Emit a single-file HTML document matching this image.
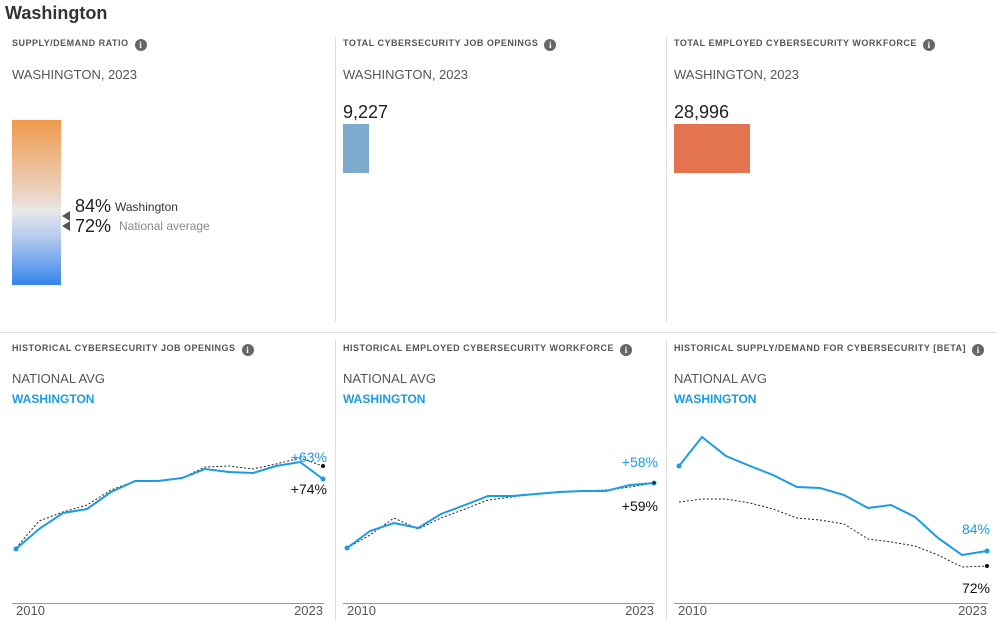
<!DOCTYPE html>
<html><head><meta charset="utf-8"><style>
body{margin:0;width:997px;height:623px;background:#fff;font-family:"Liberation Sans",Arial,sans-serif;overflow:hidden;position:relative}
.a{position:absolute;white-space:nowrap}
.h{font-size:9px;font-weight:bold;color:#555;letter-spacing:.5px}
.i{display:inline-block;width:12px;height:12px;border-radius:50%;background:#666;color:#fff;font-size:9px;text-align:center;line-height:12px;margin-left:6px;vertical-align:-2px;letter-spacing:0;font-family:"Liberation Serif",serif}
.s{font-size:13px;color:#555}
.w{font-size:12px;font-weight:bold;color:#1a9be6}
</style></head><body>
<div class="a" style="left:5px;top:3px;font-size:18px;font-weight:bold;color:#333">Washington</div>
<div class="a" style="left:335px;top:37px;width:1px;height:285px;background:#ddd"></div>
<div class="a" style="left:666px;top:37px;width:1px;height:285px;background:#ddd"></div>
<div class="a" style="left:0;top:332px;width:997px;height:1px;background:#ddd"></div>
<div class="a" style="left:335px;top:340px;width:1px;height:280px;background:#ddd"></div>
<div class="a" style="left:666px;top:340px;width:1px;height:280px;background:#ddd"></div>

<div class="a h" style="left:12px;top:38px">SUPPLY/DEMAND RATIO<span class="i">i</span></div>
<div class="a h" style="left:343px;top:38px">TOTAL CYBERSECURITY JOB OPENINGS<span class="i">i</span></div>
<div class="a h" style="left:674px;top:38px">TOTAL EMPLOYED CYBERSECURITY WORKFORCE<span class="i">i</span></div>
<div class="a s" style="left:12px;top:67px">WASHINGTON, 2023</div>
<div class="a s" style="left:343px;top:67px">WASHINGTON, 2023</div>
<div class="a s" style="left:674px;top:67px">WASHINGTON, 2023</div>

<div class="a" style="left:12px;top:120px;width:49px;height:165px;background:linear-gradient(#f0994a,#ebd9cc 48%,#e8e8e8 55%,#b9cdee 70%,#3585ec)"></div>
<div class="a" style="left:62px;top:211px;width:0;height:0;border-top:5px solid transparent;border-bottom:5px solid transparent;border-right:8px solid #555"></div>
<div class="a" style="left:62px;top:221px;width:0;height:0;border-top:5px solid transparent;border-bottom:5px solid transparent;border-right:8px solid #555"></div>
<div class="a" style="left:75px;top:196px;font-size:18px;color:#222">84%</div>
<div class="a" style="left:75px;top:216px;font-size:18px;color:#222">72%</div>
<div class="a" style="left:115px;top:200px;font-size:12px;color:#333">Washington</div>
<div class="a" style="left:119px;top:219px;font-size:12px;color:#888">National average</div>

<div class="a" style="left:343px;top:102px;font-size:18px;color:#222">9,227</div>
<div class="a" style="left:343px;top:124px;width:26px;height:49px;background:#7eaacd"></div>
<div class="a" style="left:674px;top:102px;font-size:18px;color:#222">28,996</div>
<div class="a" style="left:674px;top:124px;width:76px;height:49px;background:#e4734f"></div>

<div class="a h" style="left:12px;top:343px">HISTORICAL CYBERSECURITY JOB OPENINGS<span class="i">i</span></div>
<div class="a h" style="left:343px;top:343px">HISTORICAL EMPLOYED CYBERSECURITY WORKFORCE<span class="i">i</span></div>
<div class="a h" style="left:674px;top:343px">HISTORICAL SUPPLY/DEMAND FOR CYBERSECURITY [BETA]<span class="i">i</span></div>
<div class="a s" style="left:12px;top:371px">NATIONAL AVG</div>
<div class="a s" style="left:343px;top:371px">NATIONAL AVG</div>
<div class="a s" style="left:674px;top:371px">NATIONAL AVG</div>
<div class="a w" style="left:12px;top:392px">WASHINGTON</div>
<div class="a w" style="left:343px;top:392px">WASHINGTON</div>
<div class="a w" style="left:674px;top:392px">WASHINGTON</div>

<svg class="a" style="left:0;top:0" width="997" height="623" font-family="Liberation Sans,Arial,sans-serif">
<g stroke="#999" stroke-width="1"><line x1="12" y1="603.5" x2="324" y2="603.5"/><line x1="343" y1="603.5" x2="655" y2="603.5"/><line x1="674" y1="603.5" x2="988" y2="603.5"/></g>
<g font-size="13" fill="#555"><text x="16" y="615">2010</text><text x="323" y="615" text-anchor="end">2023</text><text x="347" y="615">2010</text><text x="654" y="615" text-anchor="end">2023</text><text x="678" y="615">2010</text><text x="987" y="615" text-anchor="end">2023</text></g>
<g fill="none" stroke="#222" stroke-width="1" stroke-dasharray="2,2">
<polyline points="16,548 39,521 63,512 87,505 111,490 135,481 158,481 182,478 205,467 229,466 253,469 276,464 300,458 323,466"/>
<polyline points="347,548 370,535 394,518 418,529 441,518 465,509 488,500 512,497 536,494 559,492 583,491 606,490 630,487 654,483"/>
<polyline points="679,502 702,499 726,499 750,503 773,509 797,518 820,520 844,524 868,539 891,542 915,546 938,555 962,567 987,566"/>
</g>
<g fill="none" stroke="#1a9be6" stroke-width="2">
<polyline points="16,549 39,529 63,513 87,509 111,492 135,481 158,481 182,478 205,469 229,472 253,473 276,466 300,462 323,479"/>
<polyline points="347,548 370,531 394,523 418,528 441,514 465,505 488,496 512,496 536,494 559,492 583,491 606,491 630,485 654,483"/>
<polyline points="679,466 702,437 726,456 750,466 773,475 797,487 820,488 844,495 868,508 891,505 915,517 938,538 962,555 987,551"/>
</g>
<g fill="#1a9be6"><circle cx="16" cy="549" r="2.5"/><circle cx="323" cy="479" r="2.5"/><circle cx="347" cy="548" r="2.5"/><circle cx="654" cy="483" r="2.5"/><circle cx="679" cy="466" r="2.5"/><circle cx="987" cy="551" r="2.5"/></g>
<g fill="#111"><circle cx="323" cy="466" r="2"/><circle cx="654" cy="483" r="1.5"/><circle cx="987" cy="566" r="2"/></g>
<g font-size="14" text-anchor="end">
<text x="327" y="462" fill="#1a9be6">+63%</text><text x="327" y="494" fill="#111">+74%</text>
<text x="658" y="467" fill="#1a9be6">+58%</text><text x="658" y="511" fill="#111">+59%</text>
<text x="990" y="534" fill="#1a9be6">84%</text><text x="990" y="593" fill="#111">72%</text>
</g>
</svg>
</body></html>
